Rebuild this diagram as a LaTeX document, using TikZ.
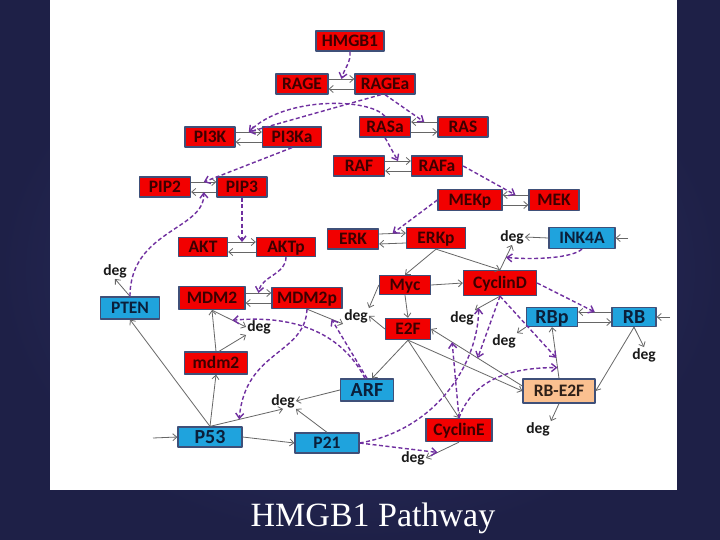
\documentclass[tikz,border=0pt]{standalone}
\usepackage{fontspec}
\usepackage{xcolor}
\usepackage{tikz}
\usetikzlibrary{arrows.meta,calc}

\newfontfamily\labelfont{Carlito}
\newfontfamily\titlefont{Liberation Serif}

\definecolor{slidelight}{HTML}{30356A}
\definecolor{slidedark}{HTML}{1E2047}
\definecolor{boxred}{HTML}{F20000}
\definecolor{boxblue}{HTML}{1FA3DD}
\definecolor{boxpeach}{HTML}{FAC090}
\definecolor{boxedge}{HTML}{3F5079}
\definecolor{redtext}{HTML}{3C0000}
\definecolor{bluetext}{HTML}{0B1F3A}
\definecolor{peachtext}{HTML}{2E2018}
\definecolor{degblack}{HTML}{1A1A1A}
\definecolor{reacgrey}{HTML}{666666}
\definecolor{catpurple}{HTML}{7030A0}

% A reversible step: upper and lower lines between two boxes,
% with named midpoints so the dashed regulators can land on them.
\newcommand{\revpair}[4]{%
  \draw[reac,#3] ([yshift=5pt]#1.east) -- ([yshift=5pt]#2.west)
    coordinate[pos=.5] (#1-#2);
  \draw[reac,#4] ([yshift=-5pt]#1.east) -- ([yshift=-5pt]#2.west)
    coordinate[pos=.5] (#1-#2-low);
}

\begin{document}
\begin{tikzpicture}[
    x=1pt,
    y=-1pt,
    line join=round,
    cellbox/.style={draw=boxedge, line width=1.3pt, inner sep=0pt,
      text height=11.5pt, text depth=0pt,
      font=\labelfont\bfseries\fontsize{17.5}{18}\selectfont},
    redbox/.style 2 args={cellbox, fill=boxred, text=redtext,
      minimum width=#1, minimum height=#2},
    bluebox/.style 2 args={cellbox, fill=boxblue, text=bluetext,
      minimum width=#1, minimum height=#2},
    peachbox/.style 2 args={cellbox, fill=boxpeach, text=peachtext,
      minimum width=#1, minimum height=#2},
    bigtext/.style={text height=13pt,
      font=\labelfont\bfseries\fontsize{20}{20}\selectfont},
    degtext/.style={inner sep=1pt, text=degblack,
      font=\labelfont\bfseries\fontsize{15.5}{16}\selectfont},
    reac/.style={draw=reacgrey, line width=0.8pt,
      >={Straight Barb[length=4pt,width=7pt]}},
    catal/.style={draw=catpurple, line width=1.4pt,
      dash pattern=on 4pt off 2.5pt,
      >={Straight Barb[length=5pt,width=8pt]}, ->}
  ]
  % slide background and the white panel
  \useasboundingbox (0,0) rectangle (720,540);
  \shade[inner color=slidelight, outer color=slidedark] (0,0) rectangle (720,540);
  \fill[white] (50,0) rectangle (677,490);

  % receptor and kinase cascade
  \node[redbox={68}{20}] (hmgb) at (350,41) {HMGB1};
  \node[redbox={52}{20}] (rage) at (302,84) {RAGE};
  \node[redbox={60}{20}] (ragea) at (385,84) {RAGEa};
  \node[redbox={50}{20}] (pik) at (210,137) {PI3K};
  \node[redbox={59}{20}] (pika) at (292,137) {PI3Ka};
  \node[redbox={51}{20}] (rasa) at (385,127) {RASa};
  \node[redbox={50}{20}] (ras) at (463,127) {RAS};
  \node[redbox={51}{20}] (pip2) at (165,187) {PIP2};
  \node[redbox={50}{20}] (pip3) at (242,187) {PIP3};
  \node[redbox={51}{20}] (raf) at (359,166) {RAF};
  \node[redbox={51}{20}] (rafa) at (437,166) {RAFa};
  \node[redbox={64}{21}] (mekp) at (470,200) {MEKp};
  \node[redbox={50}{21}] (mek) at (554,200) {MEK};
  \node[redbox={51}{20}] (erk) at (353,239) {ERK};
  \node[redbox={59}{21}] (erkp) at (436,238) {ERKp};
  \node[redbox={49}{19}] (akt) at (203,247) {AKT};
  \node[redbox={59}{19}] (aktp) at (286,247) {AKTp};
  \node[redbox={66}{23}] (mdm2) at (212,298) {MDM2};
  \node[redbox={70}{21}] (mdm2p) at (307,298) {MDM2p};
  \node[redbox={63}{22}] (mdmrna) at (216,363) {mdm2};
  \node[redbox={51}{19}] (myc) at (405,285) {Myc};
  \node[redbox={73}{25}] (cycd) at (500,283) {CyclinD};
  \node[redbox={45}{21}] (e2f) at (408,329) {E2F};
  \node[redbox={66}{23}] (cyce) at (459,430) {CyclinE};

  % suppressors and the RB complex
  \node[bluebox={66}{21}] (ink) at (582,238) {INK4A};
  \node[bluebox={59}{22}] (pten) at (130,308) {PTEN};
  \node[bluebox={51}{19}, bigtext] (rbp) at (552,317) {RBp};
  \node[bluebox={44}{19}, bigtext] (rb) at (634,317) {RB};
  \node[bluebox={53}{22}, bigtext] (arf) at (367,390) {ARF};
  \node[bluebox={64}{20}, bigtext] (p53) at (210,437) {P53};
  \node[bluebox={64}{20}] (p21) at (327,443) {P21};
  \node[peachbox={72}{24}] (rbe2f) at (559,391) {RB-E2F};

  % degradation sinks
  \node[degtext] (dg1) at (115,271) {deg};
  \node[degtext] (dg2) at (259,327) {deg};
  \node[degtext] (dg3) at (356,316) {deg};
  \node[degtext] (dg4) at (283,401) {deg};
  \node[degtext] (dg5) at (512,237) {deg};
  \node[degtext] (dg6) at (462,318) {deg};
  \node[degtext] (dg7) at (504,341) {deg};
  \node[degtext] (dg8) at (644,355) {deg};
  \node[degtext] (dg9) at (538,429) {deg};
  \node[degtext] (dg10) at (413,458) {deg};

  % free ends of the inflow arrows
  \coordinate (p53in) at (153,438);
  \coordinate (inkin) at (628,238);
  \coordinate (rbin) at (670,317);

  % reversible steps
  \revpair{rage}{ragea}{->}{<-}
  \revpair{pik}{pika}{->}{<-}
  \revpair{pip2}{pip3}{->}{<-}
  \revpair{rasa}{ras}{<-}{->}
  \revpair{raf}{rafa}{->}{<-}
  \revpair{mekp}{mek}{<-}{->}
  \revpair{erk}{erkp}{->}{<-}
  \revpair{akt}{aktp}{->}{<-}
  \revpair{mdm2}{mdm2p}{->}{<-}
  \revpair{rbp}{rb}{<-}{->}

  % one-way reactions
  \draw[reac,->] (erkp.south) -- (cycd.north);
  \draw[reac,->] (erkp.south) -- (myc.north);
  \draw[reac,->] (myc.east) -- (cycd.west);
  \draw[reac,->] (myc.south) -- (e2f.north);
  \draw[reac,->] (myc.west) -- (dg3.north east);
  \draw[reac,->] (e2f.west) -- (dg3.east);
  \draw[reac,->] (mdm2p.south) -- (dg3.south west) coordinate[pos=.68] (mdm2p-dg3);
  \draw[reac,->] (cycd.north) -- (dg5.south) coordinate[pos=.5] (cycd-dg5);
  \draw[reac,->] (ink.west) -- (dg5.east);
  \draw[reac,->] (cycd.south) -- (dg6.north east) coordinate[pos=.85] (cycd-dg6);
  \draw[reac,->] (rbp.south west) -- (dg7.north east);
  \draw[reac,->] (rb.south) -- (dg8.north);
  \draw[reac,->] (rb.south) -- (rbe2f.east);
  \draw[reac,->] (rbe2f.north) -- (rbp.south)
    coordinate[pos=.4] (rbe2f-rbp) coordinate[pos=.21] (rbe2f-rbp-low);
  \draw[reac,->] (rbe2f.south) -- (dg9.north east);
  \draw[reac,->] (e2f.south) -- (rbe2f.west);
  \draw[reac,->] ([yshift=5pt]rbe2f.west) -- (e2f.east)
    coordinate[pos=.49] (rbe2f-e2f) coordinate[pos=.77] (rbe2f-e2f-up);
  \draw[reac,->] (e2f.south) -- (cyce.north);
  \draw[reac,->] (e2f.south) -- ([xshift=5pt]arf.north);
  \draw[reac,->] (cyce.south) -- (dg10.east) coordinate[pos=.65] (cyce-dg10);
  \draw[reac,->] (p53.north) -- (pten.south);
  \draw[reac,->] (p53.north) -- (mdmrna.south);
  \draw[reac,->] (p53.north) -- (dg4.south) coordinate[pos=.4] (p53-dg4);
  \draw[reac,->] (p53.east) -- (p21.west);
  \draw[reac,->] (arf.west) -- (dg4.east);
  \draw[reac,->] (p21.north) -- (dg4.south east);
  \draw[reac,->] (mdmrna.north) -- (mdm2.south);
  \draw[reac,->] ([xshift=3pt]mdmrna.north) -- (dg2.south west);
  \draw[reac,->] (mdm2.south) -- (dg2.west) coordinate[pos=.6] (mdm2-dg2);
  \draw[reac,->] (pten.north) -- (dg1.south);
  \draw[reac,->] (p53in) -- (p53.west);
  \draw[reac,->] (inkin) -- (ink.east);
  \draw[reac,->] (rbin) -- (rb.east);

  % dashed regulators acting on the reactions
  \draw[catal] (hmgb.south) to[out=-85,in=75] (rage-ragea);
  \draw[catal] ([xshift=-4pt]ragea.south) -- (pik-pika);
  \draw[catal] (rasa.north) .. controls (370,98) and (285,96) .. (pik-pika);
  \draw[catal] (ragea.south) -- (rasa-ras);
  \draw[catal] (rasa.south) -- (raf-rafa);
  \draw[catal] (rafa.east) -- (mekp-mek);
  \draw[catal] (mekp.west) -- (erk-erkp);
  \draw[catal] (pika.south) -- (pip2-pip3);
  \draw[catal] (pten.north) .. controls (130,230) and (205,230) .. (pip2-pip3-low);
  \draw[catal] (pip3.south) -- (akt-aktp);
  \draw[catal] (aktp.south) to[out=-90,in=80] (mdm2-mdm2p);
  \draw[catal] (ink.south) .. controls (572,258) and (535,260) .. (cycd-dg5);
  \draw[catal] (cycd.east) -- (rbp-rb);
  \draw[catal] (cycd.south) -- (rbe2f-e2f);
  \draw[catal] (cycd.south) -- (rbe2f-rbp);
  \draw[catal] (cyce.north) -- (rbe2f-e2f-up);
  \draw[catal] (cyce.north) to[out=70,in=180] (rbe2f-rbp-low);
  \draw[catal] (p21.east) .. controls (435,430) and (478,365) .. (cycd-dg6);
  \draw[catal] (p21.east) -- (cyce-dg10);
  \draw[catal] ([xshift=-2pt]arf.north) .. controls (340,330) and (290,315) .. (mdm2-dg2);
  \draw[catal] (arf.north) -- (mdm2p-dg3);
  \draw[catal] (mdm2p.south) .. controls (305,355) and (245,350) .. (p53-dg4);

  % slide caption
  \node[text=white, anchor=base, font=\titlefont\fontsize{34}{36}\selectfont]
    (title) at (373,526) {HMGB1 Pathway};
\end{tikzpicture}
\end{document}
